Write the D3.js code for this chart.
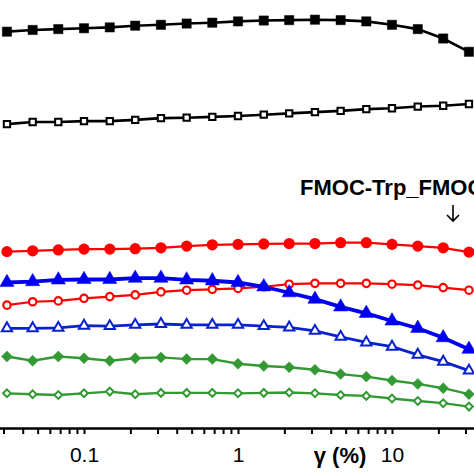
<!DOCTYPE html>
<html>
<head>
<meta charset="utf-8">
<script src="https://cdn.jsdelivr.net/npm/d3@7"></script>
<style>
  body { margin: 0; background: #fff; }
  svg { display: block; font-family: Arial, "Liberation Sans", sans-serif; }
</style>
</head>
<body>
<svg></svg>
<script>
const width = 474, height = 474;
const svg = d3.select("svg").attr("width", width).attr("height", height);

// strain amplitude (%)
const strain = [0.0316, 0.0464, 0.0681, 0.1, 0.147, 0.215, 0.316, 0.464, 0.681, 1,
                1.47, 2.15, 3.16, 4.64, 6.81, 10, 14.7, 21.5, 31.6];

// moduli (relative units)
const blackGp  = [92.6, 93.0, 93.2, 93.4, 93.6, 94.0, 94.2, 94.5, 94.7, 95.0, 95.2, 95.3, 95.4, 95.3, 95.0, 94.2, 93.2, 91.0, 87.9];
const blackGpp = [71.0, 71.5, 71.5, 71.7, 71.7, 72.0, 72.4, 72.5, 72.7, 72.9, 73.2, 73.5, 73.8, 74.1, 74.5, 74.7, 75.1, 75.3, 75.7];
const redGp    = [41.2, 41.4, 41.6, 41.8, 41.8, 41.9, 42.1, 42.5, 42.8, 42.9, 43.0, 43.1, 43.1, 43.3, 43.3, 42.9, 42.5, 42.1, 41.1];
const redGpp   = [28.7, 29.5, 29.7, 30.3, 30.7, 31.1, 31.8, 32.2, 32.4, 32.6, 33.0, 33.6, 33.8, 33.8, 33.8, 33.6, 33.4, 32.8, 32.2];
const blueGp   = [34.0, 34.2, 34.6, 34.7, 34.7, 35.0, 35.0, 34.6, 34.4, 34.0, 33.0, 31.6, 30.1, 28.3, 26.8, 25.0, 23.3, 21.1, 18.4];
const blueGpp  = [23.3, 23.3, 23.4, 23.9, 23.8, 24.1, 24.3, 24.1, 24.1, 24.1, 23.8, 23.5, 22.7, 21.3, 20.0, 19.0, 17.1, 15.5, 13.4];
const greenGp  = [16.7, 15.7, 16.7, 16.3, 15.7, 16.3, 16.5, 16.1, 16.1, 15.0, 14.5, 14.2, 13.6, 12.6, 12.0, 11.1, 10.3, 9.3, 7.9];
const greenGpp = [8.1, 7.9, 7.7, 8.1, 8.5, 7.9, 8.2, 8.2, 8.2, 8.1, 8.2, 8.3, 8.1, 7.7, 7.5, 6.9, 6.3, 5.8, 5.0];

const majorTicks = [0.1, 1, 10];

const series = [
  { values: blackGp,  color: "#000000", shape: "square",   filled: true,  lw: 2.6 },
  { values: blackGpp, color: "#000000", shape: "square",   filled: false, lw: 2.6 },
  { values: redGp,    color: "#ff0000", shape: "circle",   filled: true,  lw: 2.2 },
  { values: redGpp,   color: "#ff0000", shape: "circle",   filled: false, lw: 2.2 },
  { values: blueGp,   color: "#0000f0", shape: "triangle", filled: true,  lw: 3.8 },
  { values: blueGpp,  color: "#0a22cc", shape: "triangle", filled: false, lw: 2.8 },
  { values: greenGp,  color: "#339933", shape: "diamond",  filled: true,  lw: 2.4 },
  { values: greenGpp, color: "#339933", shape: "diamond",  filled: false, lw: 2.4 }
];

const axisY = 428;
const x = d3.scaleLog().domain([0.01, 100]).range([-70, 546]);
const y = d3.scaleLinear().domain([0, 100]).range([axisY, 0]);

// x axis with minor ticks
const allTicks = [];
[0.01, 0.1, 1, 10].forEach(dec => {
  for (let i = 1; i <= 9; i++) allTicks.push(+(dec * i).toPrecision(3));
});
const gx = svg.append("g")
  .attr("transform", `translate(0,${axisY})`)
  .call(d3.axisBottom(x)
    .tickValues(allTicks.filter(t => x(t) >= 0 && x(t) <= width))
    .tickSize(6)
    .tickSizeOuter(0)
    .tickPadding(13)
    .tickFormat(d => majorTicks.includes(d) ? String(d) : ""));
gx.select(".domain").attr("stroke-width", 2.5);
gx.selectAll(".tick line").attr("stroke-width", 2);
gx.selectAll(".tick text").attr("font-size", 21).attr("fill", "#000");

svg.append("text")
  .attr("x", 340).attr("y", 463)
  .attr("text-anchor", "middle")
  .attr("font-size", 22).attr("font-weight", "bold")
  .text("γ (%)");

// lines and markers
const line = d3.line().x((d, i) => x(strain[i])).y(d => y(d));
const sym = {
  square:   { f: d3.symbol().type(d3.symbolSquare).size(86),   o: d3.symbol().type(d3.symbolSquare).size(40),   rot: 0 },
  triangle: { f: d3.symbol().type(d3.symbolTriangle).size(88), o: d3.symbol().type(d3.symbolTriangle).size(46), rot: 0 },
  diamond:  { f: d3.symbol().type(d3.symbolSquare).size(60),   o: d3.symbol().type(d3.symbolSquare).size(30),   rot: 45 }
};

series.forEach(s => {
  svg.append("path")
    .attr("d", line(s.values))
    .attr("fill", "none")
    .attr("stroke", s.color)
    .attr("stroke-width", s.lw);

  const g = svg.append("g");
  s.values.forEach((v, i) => {
    const cx = x(strain[i]), cy = y(v);
    if (s.shape === "circle") {
      g.append("circle")
        .attr("cx", cx).attr("cy", cy)
        .attr("r", s.filled ? 5.6 : 3.7)
        .attr("fill", s.filled ? s.color : "#fff")
        .attr("stroke", s.color)
        .attr("stroke-width", s.filled ? 0 : 2.2);
    } else {
      const m = sym[s.shape];
      g.append("path")
        .attr("transform", `translate(${cx},${cy}) rotate(${m.rot})`)
        .attr("d", s.filled ? m.f() : m.o())
        .attr("fill", s.filled ? s.color : "#fff")
        .attr("stroke", s.color)
        .attr("stroke-width", s.filled ? 0.5 : 2);
    }
  });
});

// annotation
svg.append("text")
  .attr("x", 300).attr("y", 195)
  .attr("font-size", 22).attr("font-weight", "bold")
  .text("FMOC-Trp_FMOC");
svg.append("path")
  .attr("d", "M453,205 L453,221 M447,215 L453,221 L459,215")
  .attr("fill", "none")
  .attr("stroke", "#000")
  .attr("stroke-width", 1.6);
</script>
</body>
</html>
